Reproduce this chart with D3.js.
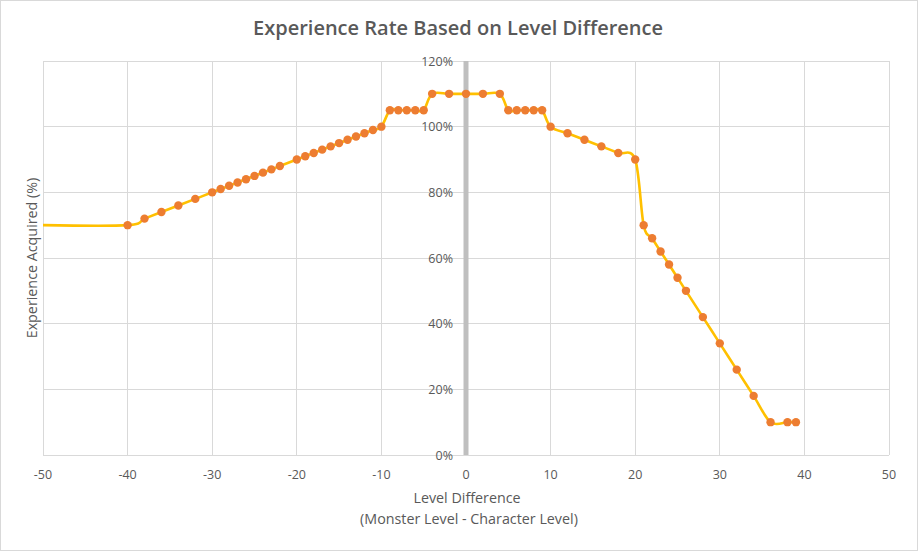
<!DOCTYPE html>
<html><head><meta charset="utf-8">
<script src="https://cdn.jsdelivr.net/npm/d3@7"></script>
<style>
html,body{margin:0;padding:0;background:#fff;}
svg{display:block;}
text{font-family:"Open Sans","Liberation Sans",sans-serif;fill:#595959;}
</style></head>
<body>
<svg id="chart" width="918" height="551"></svg>
<script>
const levelDiff = [-50,-40,-38,-36,-34,-32,-30,-29,-28,-27,-26,-25,-24,-23,-22,-20,-19,-18,-17,-16,-15,-14,-13,-12,-11,-10,-9,-8,-7,-6,-5,-4,-2,0,2,4,5,6,7,8,9,10,12,14,16,18,20,21,22,23,24,25,26,28,30,32,34,36,38,39];
const expRate   = [70,70,72,74,76,78,80,81,82,83,84,85,86,87,88,90,91,92,93,94,95,96,97,98,99,100,105,105,105,105,105,110,110,110,110,110,105,105,105,105,105,100,98,96,94,92,90,70,66,62,58,54,50,42,34,26,18,10,10,10];
const xTicks = [-50,-40,-30,-20,-10,0,10,20,30,40,50];
const yTicks = [0,20,40,60,80,100,120];
const titleText = "Experience Rate Based on Level Difference";
const xTitle1 = "Level Difference";
const xTitle2 = "(Monster Level - Character Level)";
const yTitle = "Experience Acquired (%)";

const data = levelDiff.map((d,i)=>({x:d,y:expRate[i]}));
const svg = d3.select("#chart");
const W=918,H=551;
svg.append("rect").attr("x",0.5).attr("y",0.5).attr("width",W-1).attr("height",H-1).attr("fill","#fff").attr("stroke","#D9D9D9");

const x = d3.scaleLinear().domain([-50,50]).range([43,889]);
const y = d3.scaleLinear().domain([0,120]).range([455,61]);

// gridlines
svg.append("g").selectAll("line").data(yTicks.filter(d=>d>0)).join("line")
  .attr("x1",x(-50)).attr("x2",x(50)).attr("y1",d=>y(d)).attr("y2",d=>y(d))
  .attr("stroke","#D9D9D9").attr("stroke-width",1).attr("shape-rendering","crispEdges");
svg.append("g").selectAll("line").data(xTicks.filter(d=>d!==0)).join("line")
  .attr("x1",d=>x(d)).attr("x2",d=>x(d)).attr("y1",y(0)).attr("y2",y(120))
  .attr("stroke","#D9D9D9").attr("stroke-width",1).attr("shape-rendering","crispEdges");

// x axis line
svg.append("line").attr("x1",x(-50)).attr("x2",x(50)).attr("y1",y(0)).attr("y2",y(0))
  .attr("stroke","#D9D9D9").attr("stroke-width",1).attr("shape-rendering","crispEdges");
// y axis (thick, at x=0)
svg.append("line").attr("x1",x(0)).attr("x2",x(0)).attr("y1",y(0)).attr("y2",y(120))
  .attr("stroke","#BFBFBF").attr("stroke-width",5);

// tick labels
svg.append("g").selectAll("text").data(xTicks).join("text")
  .attr("x",d=>x(d)).attr("y",y(0)+23.5).attr("text-anchor","middle")
  .style("font-size","12.5px").text(d=>d);
svg.append("g").selectAll("text").data(yTicks).join("text")
  .attr("x",x(0)-13).attr("y",d=>y(d)+4.7).attr("text-anchor","end")
  .style("font-size","12.5px").text(d=>d+"%");

// line
svg.append("path").datum(data)
  .attr("d",d3.line().x(d=>x(d.x)).y(d=>y(d.y)).curve(d3.curveCardinal.tension(0)))
  .attr("fill","none").attr("stroke","#FFC000").attr("stroke-width",2.6).attr("stroke-linejoin","round");
// markers
svg.append("g").selectAll("circle").data(data.slice(1)).join("circle")
  .attr("cx",d=>x(d.x)).attr("cy",d=>y(d.y)).attr("r",4.2)
  .attr("fill","#ED7D31");

// titles
svg.append("text").attr("x",458).attr("y",35).attr("text-anchor","middle")
  .style("font-size","20px").style("font-weight","600").text(titleText);
svg.append("text").attr("x",467).attr("y",503).attr("text-anchor","middle")
  .style("font-size","14.3px").text(xTitle1);
svg.append("text").attr("x",469).attr("y",524).attr("text-anchor","middle")
  .style("font-size","14.3px").text(xTitle2);
svg.append("text").attr("transform","translate(37,258) rotate(-90)").attr("text-anchor","middle")
  .style("font-size","14.3px").text(yTitle);
</script>
</body></html>
